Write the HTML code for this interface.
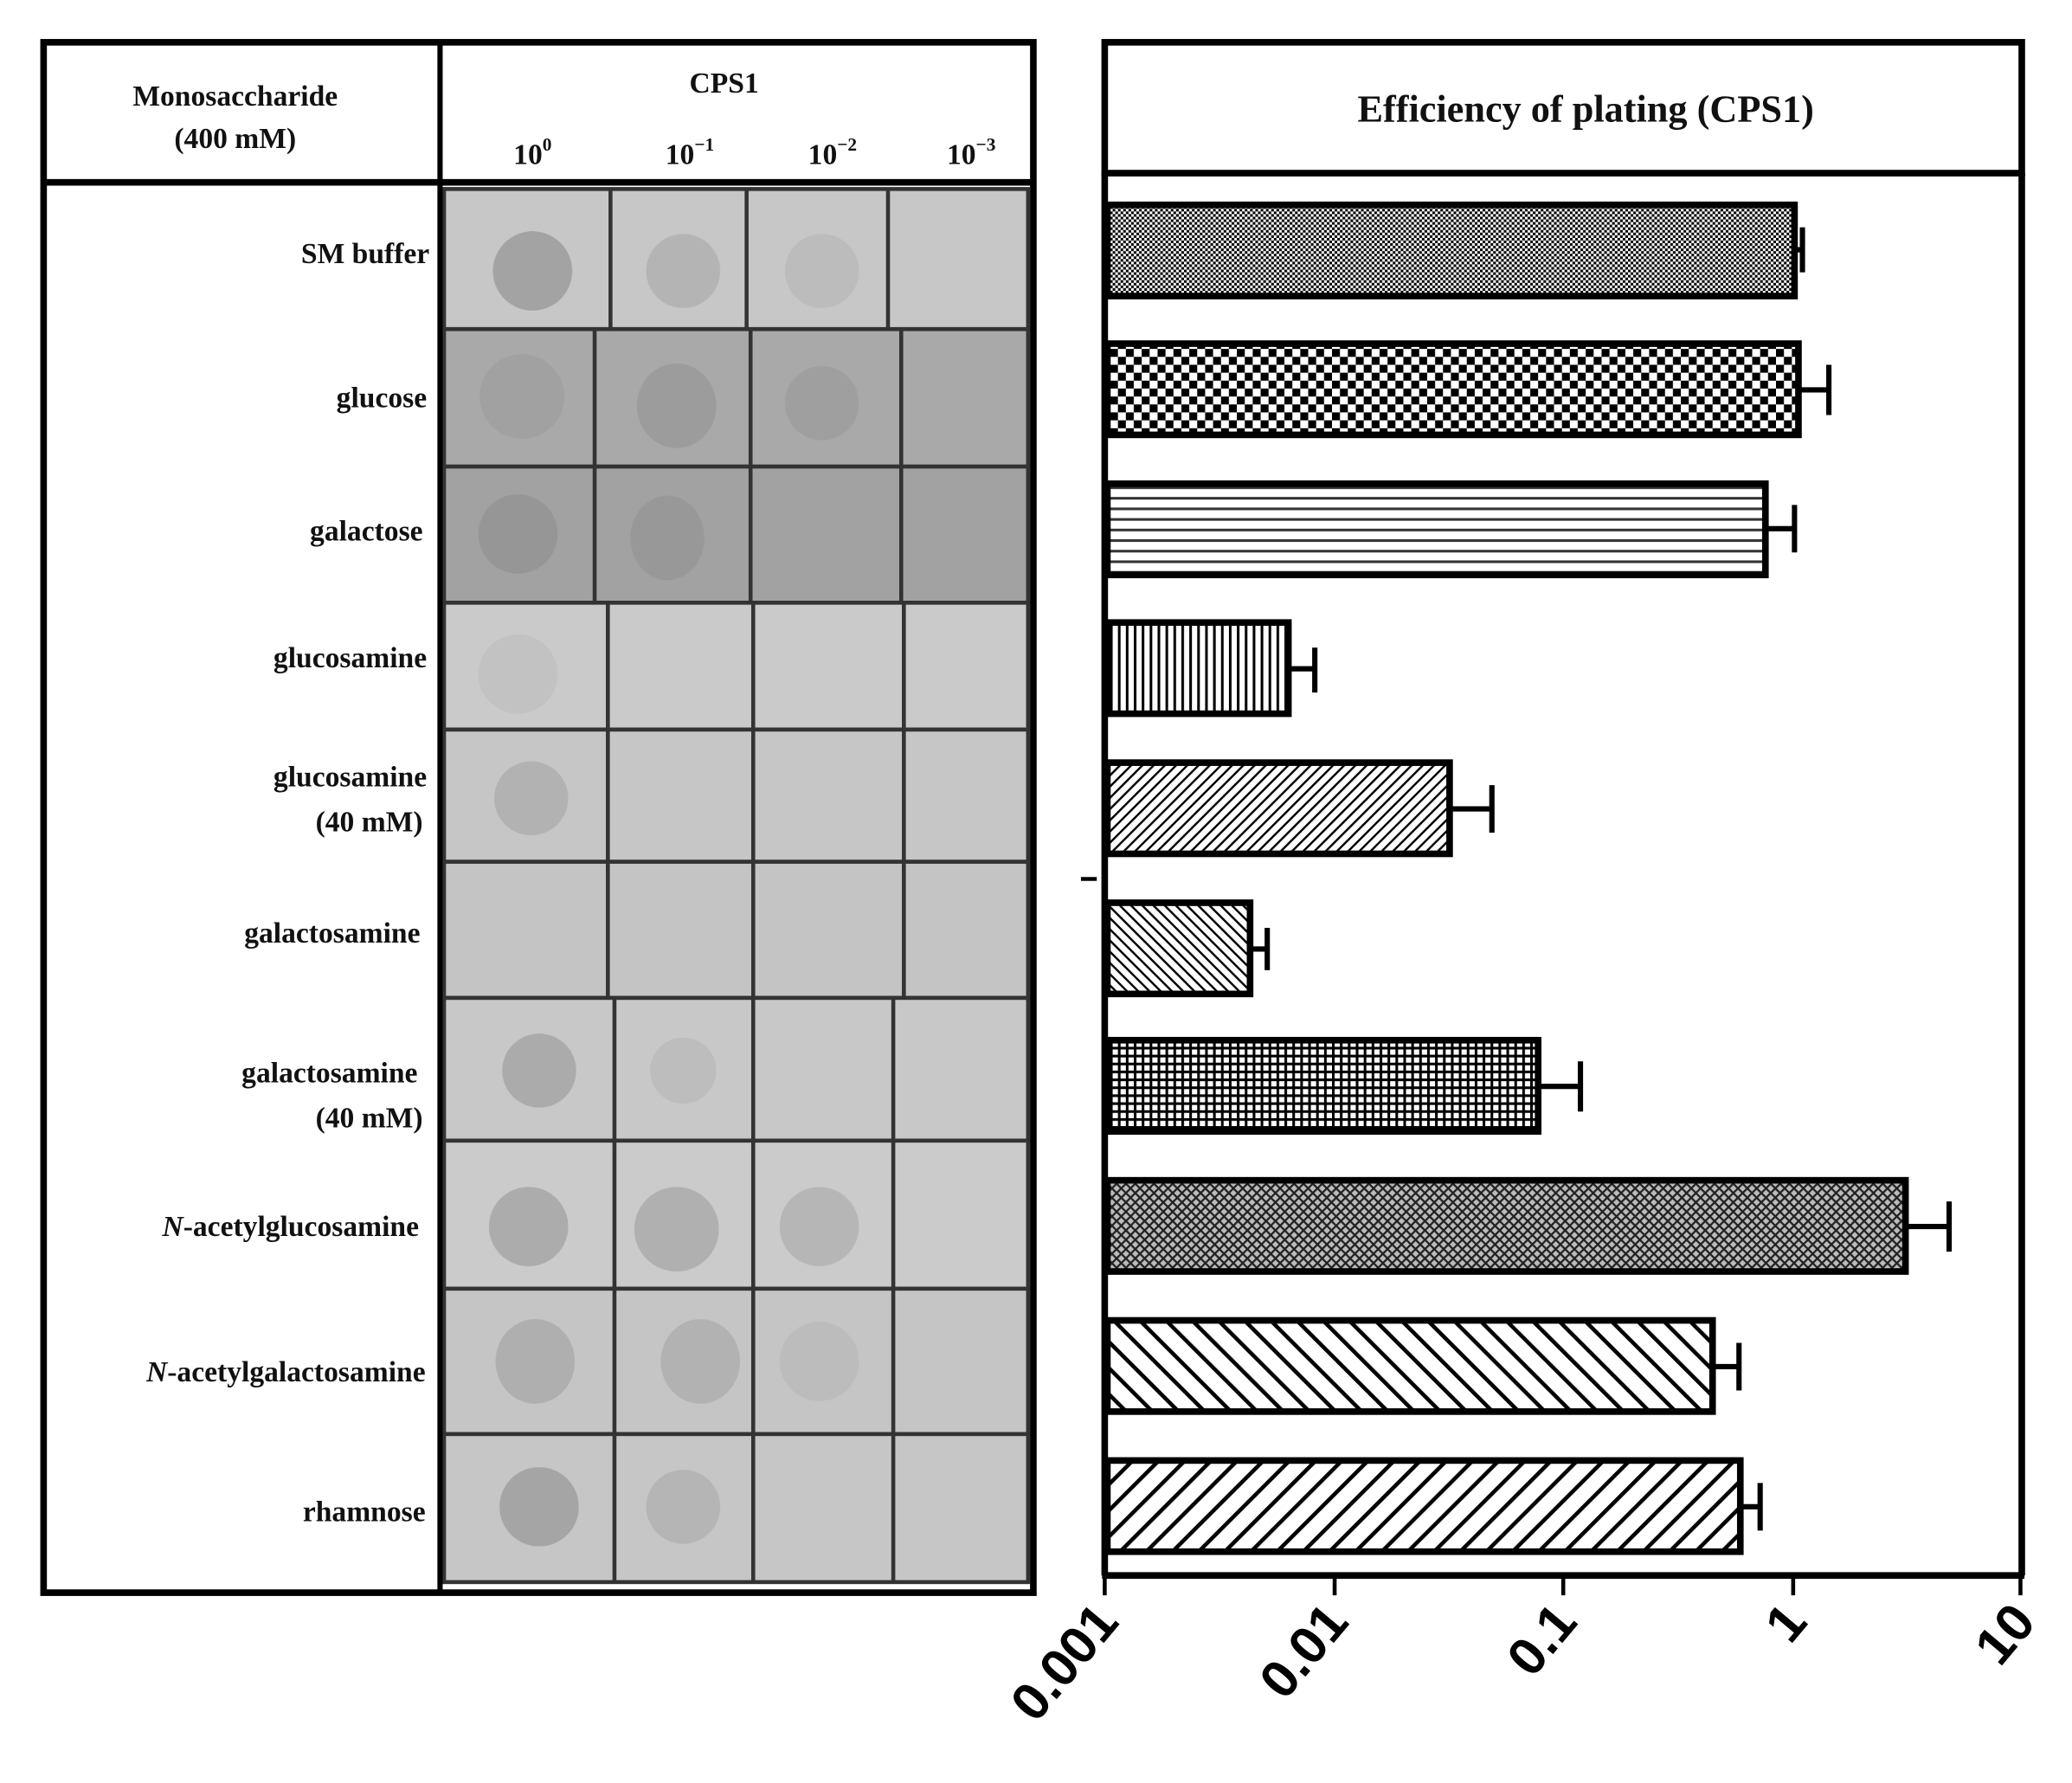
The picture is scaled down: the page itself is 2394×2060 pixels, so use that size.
<!DOCTYPE html>
<html><head><meta charset="utf-8"><style>
html,body{margin:0;padding:0;background:#fff}
svg{display:block}
.s{font-family:"Liberation Serif",serif;font-weight:bold;fill:#111}
.a{font-family:"Liberation Sans",sans-serif;font-weight:bold;fill:#000}
</style></head><body>
<svg width="2394" height="2060" viewBox="0 0 1568 1349" preserveAspectRatio="none" xmlns="http://www.w3.org/2000/svg">
<defs>
<pattern id="p1" width="4" height="4" patternUnits="userSpaceOnUse"><rect width="4" height="4" fill="#fff"/><rect width="2" height="2" fill="#000"/><rect x="2" y="2" width="2" height="2" fill="#000"/></pattern>
<pattern id="p2" width="12" height="12" patternUnits="userSpaceOnUse"><rect width="12" height="12" fill="#fff"/><rect width="6" height="6" fill="#000"/><rect x="6" y="6" width="6" height="6" fill="#000"/></pattern>
<pattern id="p3" width="10" height="8" patternUnits="userSpaceOnUse"><rect width="10" height="8" fill="#fff"/><rect y="0" width="10" height="2" fill="#333"/></pattern>
<pattern id="p4" width="6" height="10" patternUnits="userSpaceOnUse"><rect width="6" height="10" fill="#fff"/><rect width="2" height="10" fill="#000"/></pattern>
<pattern id="p5" width="6" height="6" patternUnits="userSpaceOnUse" patternTransform="rotate(45)"><rect width="6" height="6" fill="#fff"/><rect width="1.6" height="6" fill="#000"/></pattern>
<pattern id="p6" width="6" height="6" patternUnits="userSpaceOnUse" patternTransform="rotate(-45)"><rect width="6" height="6" fill="#fff"/><rect width="1.6" height="6" fill="#000"/></pattern>
<pattern id="p7" width="6" height="6" patternUnits="userSpaceOnUse"><rect width="6" height="6" fill="#fff"/><rect width="2" height="6" fill="#000"/><rect width="6" height="2" fill="#000"/></pattern>
<pattern id="p8" width="5" height="5" patternUnits="userSpaceOnUse" patternTransform="rotate(45)"><rect width="5" height="5" fill="#bbb"/><rect width="1.5" height="5" fill="#222"/><rect width="5" height="1.5" fill="#222"/></pattern>
<pattern id="p9" width="14" height="14" patternUnits="userSpaceOnUse" patternTransform="rotate(-45)"><rect width="14" height="14" fill="#fff"/><rect width="3" height="14" fill="#000"/></pattern>
<pattern id="p10" width="14" height="14" patternUnits="userSpaceOnUse" patternTransform="rotate(45)"><rect width="14" height="14" fill="#fff"/><rect width="3" height="14" fill="#000"/></pattern>
</defs>

<g stroke="#333" stroke-width="3">
<rect x="336" y="143" width="442" height="106" fill="#c7c7c7"/>
<rect x="336" y="249" width="442" height="104" fill="#a9a9a9"/>
<rect x="336" y="353" width="442" height="103" fill="#a2a2a2"/>
<rect x="336" y="456" width="442" height="96" fill="#cacaca"/>
<rect x="336" y="552" width="442" height="100" fill="#c6c6c6"/>
<rect x="336" y="652" width="442" height="103" fill="#c4c4c4"/>
<rect x="336" y="755" width="442" height="108" fill="#c8c8c8"/>
<rect x="336" y="863" width="442" height="112" fill="#cbcbcb"/>
<rect x="336" y="975" width="442" height="110" fill="#c5c5c5"/>
<rect x="336" y="1085" width="442" height="112" fill="#c6c6c6"/>
</g>
<g stroke="#333" stroke-width="3">
<line x1="462" y1="143" x2="462" y2="249"/><line x1="565" y1="143" x2="565" y2="249"/><line x1="672" y1="143" x2="672" y2="249"/>
<line x1="450" y1="249" x2="450" y2="456"/><line x1="568" y1="249" x2="568" y2="456"/><line x1="682" y1="249" x2="682" y2="456"/>
<line x1="460" y1="456" x2="460" y2="755"/><line x1="570" y1="456" x2="570" y2="755"/><line x1="684" y1="456" x2="684" y2="755"/>
<line x1="465" y1="755" x2="465" y2="1197"/><line x1="570" y1="755" x2="570" y2="1197"/><line x1="676" y1="755" x2="676" y2="1197"/>
</g>
<g fill="#8a8a8a" opacity="0.6">
<ellipse cx="403" cy="205" rx="30" ry="30"/><ellipse cx="517" cy="205" rx="28" ry="28" opacity="0.5"/><ellipse cx="622" cy="205" rx="28" ry="28" opacity="0.3"/>
<ellipse cx="395" cy="300" rx="32" ry="32" opacity="0.4"/><ellipse cx="512" cy="307" rx="30" ry="32" opacity="0.7"/><ellipse cx="622" cy="305" rx="28" ry="28" opacity="0.5"/>
<ellipse cx="392" cy="404" rx="30" ry="30" opacity="0.8"/><ellipse cx="505" cy="407" rx="28" ry="32" opacity="0.6"/>
<ellipse cx="392" cy="510" rx="30" ry="30" opacity="0.2"/>
<ellipse cx="402" cy="604" rx="28" ry="28" opacity="0.55"/>
<ellipse cx="408" cy="810" rx="28" ry="28" opacity="0.75"/><ellipse cx="517" cy="810" rx="25" ry="25" opacity="0.3"/>
<ellipse cx="400" cy="928" rx="30" ry="30" opacity="0.8"/><ellipse cx="512" cy="930" rx="32" ry="32" opacity="0.7"/><ellipse cx="620" cy="928" rx="30" ry="30" opacity="0.5"/>
<ellipse cx="405" cy="1030" rx="30" ry="32" opacity="0.6"/><ellipse cx="530" cy="1030" rx="30" ry="32" opacity="0.5"/><ellipse cx="620" cy="1030" rx="30" ry="30" opacity="0.25"/>
<ellipse cx="408" cy="1140" rx="30" ry="30" opacity="0.9"/><ellipse cx="517" cy="1140" rx="28" ry="28" opacity="0.45"/>
</g>

<g fill="none" stroke="#000">
<rect x="33" y="32" width="749" height="1173" stroke-width="5"/>
<line x1="33" y1="138" x2="782" y2="138" stroke-width="5"/>
<line x1="333" y1="32" x2="333" y2="1205" stroke-width="4"/>
</g>
<text class="s" x="178" y="80" font-size="22" text-anchor="middle">Monosaccharide</text>
<text class="s" x="178" y="112" font-size="22" text-anchor="middle">(400 mM)</text>
<text class="s" x="548" y="70" font-size="22" text-anchor="middle">CPS1</text>
<g class="s" font-size="22" text-anchor="middle">
<text x="403" y="124">10<tspan font-size="14" dy="-10">0</tspan></text>
<text x="522" y="124">10<tspan font-size="14" dy="-10">−1</tspan></text>
<text x="630" y="124">10<tspan font-size="14" dy="-10">−2</tspan></text>
<text x="735" y="124">10<tspan font-size="14" dy="-10">−3</tspan></text>
</g>
<g class="s" font-size="22" text-anchor="end">
<text x="325" y="199">SM buffer</text>
<text x="323" y="308">glucose</text>
<text x="320" y="409">galactose</text>
<text x="323" y="505">glucosamine</text>
<text x="323" y="595">glucosamine</text>
<text x="320" y="629">(40 mM)</text>
<text x="318" y="713">galactosamine</text>
<text x="316" y="819">galactosamine</text>
<text x="320" y="853">(40 mM)</text>
<text x="317" y="935"><tspan font-style="italic">N</tspan>-acetylglucosamine</text>
<text x="322" y="1045"><tspan font-style="italic">N</tspan>-acetylgalactosamine</text>
<text x="322" y="1151">rhamnose</text>
</g>

<g fill="none" stroke="#000">
<rect x="836" y="32" width="694" height="99" stroke-width="5"/>
<line x1="836" y1="131" x2="836" y2="1192" stroke-width="5"/>
<line x1="1530" y1="131" x2="1530" y2="1192" stroke-width="5"/>
<line x1="834" y1="1192" x2="1532" y2="1192" stroke-width="5"/>
<g stroke-width="3">
<line x1="836" y1="1192" x2="836" y2="1207"/><line x1="1010" y1="1192" x2="1010" y2="1207"/>
<line x1="1183" y1="1192" x2="1183" y2="1207"/><line x1="1357" y1="1192" x2="1357" y2="1207"/><line x1="1529" y1="1192" x2="1529" y2="1207"/>
</g>
<line x1="818" y1="665" x2="830" y2="665" stroke-width="3"/>
</g>
<text class="s" x="1200" y="92" font-size="29" text-anchor="middle">Efficiency of plating (CPS1)</text>

<g stroke="#000" stroke-width="5">
<rect x="838" y="155" width="520" height="69" fill="url(#p1)"/>
<rect x="838" y="260" width="523" height="69" fill="url(#p2)"/>
<rect x="838" y="366" width="498" height="69" fill="url(#p3)"/>
<rect x="838" y="471" width="137" height="69" fill="url(#p4)"/>
<rect x="838" y="577" width="259" height="69" fill="url(#p5)"/>
<rect x="838" y="683" width="108" height="69" fill="url(#p6)"/>
<rect x="838" y="787" width="326" height="69" fill="url(#p7)"/>
<rect x="838" y="893" width="604" height="69" fill="url(#p8)"/>
<rect x="838" y="999" width="458" height="69" fill="url(#p9)"/>
<rect x="838" y="1105" width="479" height="69" fill="url(#p10)"/>
</g>
<g stroke="#000" stroke-width="4" fill="none">
<path d="M1358 189H1364M1364 172V206"/>
<path d="M1361 295H1384M1384 276V314"/>
<path d="M1336 400H1358M1358 382V418"/>
<path d="M975 506H995M995 490V524"/>
<path d="M1097 612H1129M1129 594V630"/>
<path d="M946 718H959M959 702V734"/>
<path d="M1164 822H1196M1196 803V841"/>
<path d="M1442 928H1475M1475 909V947"/>
<path d="M1296 1034H1316M1316 1016V1052"/>
<path d="M1317 1140H1332M1332 1122V1158"/>
</g>

<g class="a" font-size="40" text-anchor="end">
<text transform="translate(848,1228) rotate(-50)">0.001</text>
<text transform="translate(1022,1228) rotate(-50)">0.01</text>
<text transform="translate(1195,1228) rotate(-50)">0.1</text>
<text transform="translate(1369,1228) rotate(-50)">1</text>
<text transform="translate(1542,1228) rotate(-50)">10</text>
</g>
</svg>
</body></html>
